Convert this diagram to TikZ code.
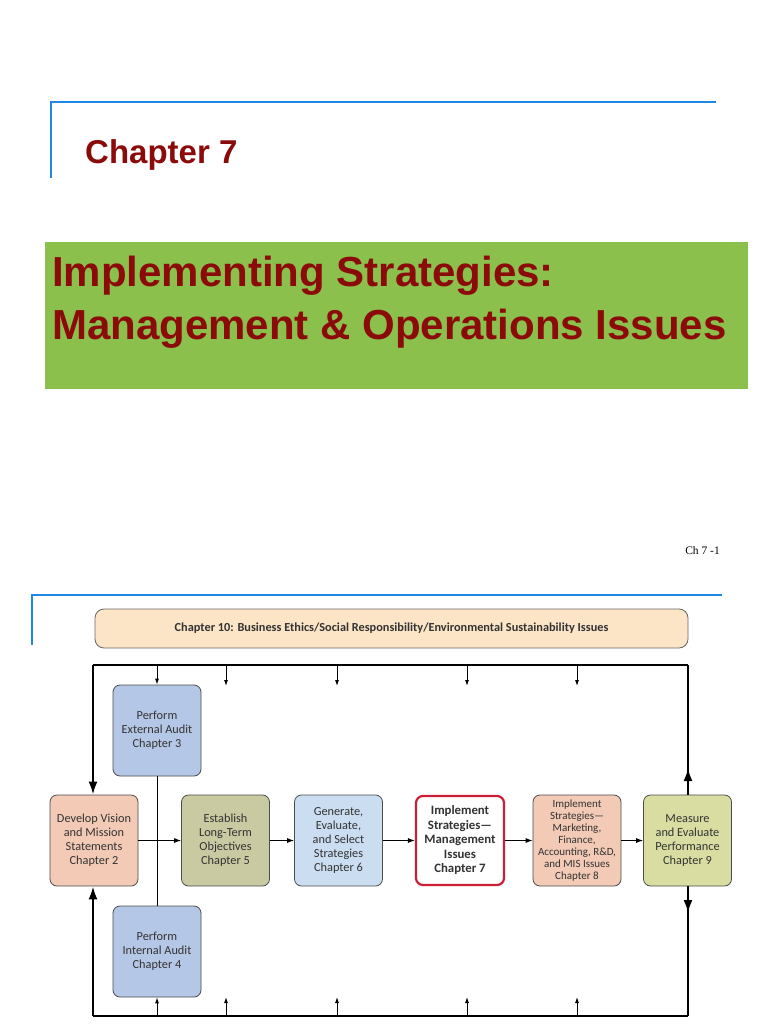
\documentclass[tikz,border=0pt]{standalone}
\usepackage{fontspec}
\setmainfont{Liberation Sans}
\newfontfamily\boxfont{Carlito}
\newfontfamily\serfont{Liberation Serif}
\usetikzlibrary{arrows.meta}
\definecolor{dred}{HTML}{8B0A0A}
\definecolor{titlegreen}{HTML}{8BC04C}
\definecolor{lineblue}{HTML}{1E88E5}
\definecolor{peach}{HTML}{FCE4C6}
\definecolor{salmon}{HTML}{F2CAB6}
\definecolor{audit}{HTML}{B5C7E6}
\definecolor{olive}{HTML}{C9C9A2}
\definecolor{lblue}{HTML}{CADDF1}
\definecolor{lime}{HTML}{D9DDA2}
\definecolor{redb}{HTML}{CC1F36}
\tikzset{
  box/.style={draw=black!70, rounded corners=7pt, minimum width=88pt, minimum height=91pt, align=center, font=\boxfont\fontsize{12.3}{14}\selectfont, text=black!80, inner sep=1pt, line width=0.8pt},
  flow/.style={-{Latex[length=7pt,width=5pt]}, line width=0.9pt},
  loop/.style={line width=2.2pt},
  big/.style={-{Latex[length=13pt,width=9pt]}, line width=2.2pt},
  tick/.style={-{Latex[length=6pt,width=4pt]}, line width=0.9pt}
}
\begin{document}
\begin{tikzpicture}[x=1pt,y=-1pt]
\useasboundingbox[fill=white] (0,0) rectangle (768,1024);
% slide 1
\draw[lineblue, line width=1.2pt] (51,178) -- (51,102) -- (716,102);
\node[anchor=west, text=dred, font=\bfseries\fontsize{33}{38}\selectfont, inner sep=0pt] (ch7) at (85,155) {Chapter 7};
\fill[titlegreen] (45,242) rectangle (748,389);
\node[anchor=north west, text=dred, align=left, font=\bfseries\fontsize{42}{53}\selectfont, inner sep=0pt] (title) at (52,256) {Implementing Strategies:\\Management \& Operations Issues};
\node[anchor=east, font=\serfont\fontsize{11.5}{13}\selectfont, inner sep=0pt] (pg) at (720,551) {Ch 7 -1};
% slide 2
\draw[lineblue, line width=1.2pt] (32,645) -- (32,595) -- (722,595);
\node[draw=black!60, fill=peach, rounded corners=9pt, minimum width=593pt, minimum height=39pt, font=\boxfont\bfseries\fontsize{12.3}{14}\selectfont, text=black!80, line width=0.8pt] (ch10) at (391.5,628.5) {Chapter 10: Business Ethics/Social Responsibility/Environmental Sustainability Issues};
\node[box, fill=salmon] (dev) at (94,840.5) {Develop Vision\\and Mission\\Statements\\Chapter 2};
\node[box, fill=audit] (ext) at (157,730.5) {Perform\\External Audit\\Chapter 3};
\node[box, fill=audit] (int) at (157,951.5) {Perform\\Internal Audit\\Chapter 4};
\node[box, fill=olive] (est) at (225.5,840.5) {Establish\\Long-Term\\Objectives\\Chapter 5};
\node[box, fill=lblue] (gen) at (338.5,840.5) {Generate,\\Evaluate,\\and Select\\Strategies\\Chapter 6};
\node[box, fill=white, draw=redb, line width=2.2pt, minimum width=88pt, minimum height=89pt, font=\boxfont\bfseries\fontsize{12.8}{14.5}\selectfont] (imp) at (460,840.5) {Implement\\Strategies—\\Management\\Issues\\Chapter 7};
\node[box, fill=salmon, font=\boxfont\fontsize{11}{12}\selectfont] (im8) at (577,840.5) {Implement\\Strategies—\\Marketing,\\Finance,\\Accounting, R\&D,\\and MIS Issues\\Chapter 8};
\node[box, fill=lime] (mea) at (687.5,840.5) {Measure\\and Evaluate\\Performance\\Chapter 9};
% loop
\coordinate (tl) at (93,665); \coordinate (tr) at (688,665);
\coordinate (bl) at (93,1016); \coordinate (br) at (688,1016);
\coordinate (ru) at (688,768); \coordinate (rd) at (688,913);
\draw[loop] (tl) -- (tr); \draw[loop] (bl) -- (br);
\draw[big] (tl) -- (dev.north -| tl);
\draw[big] (bl) -- (dev.south -| bl);
\draw[loop] (tr) -- (mea.north -| tr);
\draw[big] (mea.north -| tr) -- (ru);
\draw[loop] (br) -- (mea.south -| br);
\draw[big] (mea.south -| br) -- (rd);
% ticks
\foreach \x in {226,337,467,577}{
  \draw[tick] (\x,665) -- (\x,686);
  \draw[tick] (\x,1016) -- (\x,997);
}
\draw[tick] (157,665) -- (ext.north);
\draw[tick] (157,1016) -- (int.south);
% flow
\draw[line width=0.9pt] (ext.south) -- (int.north);
\draw[flow] (dev.east) -- (est.west);
\draw[flow] (est) -- (gen);
\draw[flow] (gen) -- (imp);
\draw[flow] (imp) -- (im8);
\draw[flow] (im8) -- (mea);
\end{tikzpicture}
\end{document}
